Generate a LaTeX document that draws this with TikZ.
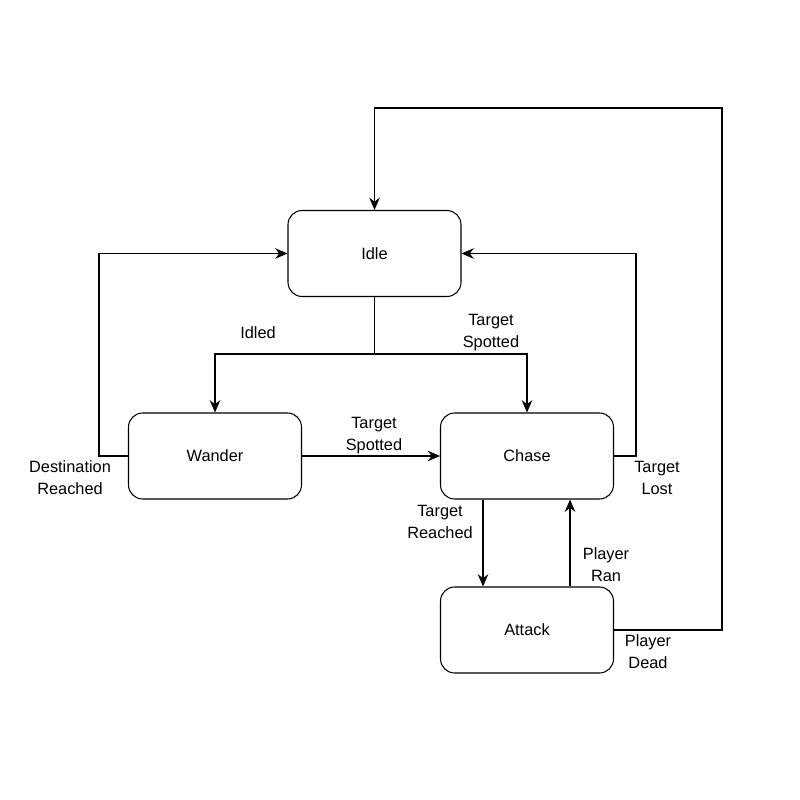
\documentclass[tikz,border=0pt]{standalone}
\usepackage{fontspec}
\setmainfont{Liberation Sans}
\usetikzlibrary{arrows.meta, positioning, calc}

\tikzset{
  state/.style={rectangle, draw, semithick, rounded corners=8pt, minimum width=3.46cm, minimum height=1.72cm},
  lbl/.style={align=center, font=\fontsize{9.3}{12.5}\selectfont},
  flow/.style={-{Stealth[length=7pt,width=6pt]}, semithick}
}

\begin{document}
\begin{tikzpicture}[x=0.02cm, y=-0.02cm, font=\fontsize{9.3}{12.5}\selectfont]
  \useasboundingbox (0,0) rectangle (800,800);

  % States
  \node[state] (idle) at (374.5,253.5) {Idle};
  \node[state] (wander) at (215,456) {Wander};
  \node[state] (chase) at (527,456) {Chase};
  \node[state] (attack) at (527,630) {Attack};

  % Bends
  \coordinate (split) at (374.5,354);
  \coordinate (leftrail) at (99,0);
  \coordinate (rightrail) at (636,0);
  \coordinate (toprail) at (722,108);
  \coordinate (down) at (483,0);
  \coordinate (up) at (570,0);

  % Transitions
  \draw[flow] (idle.south) -- (split) -| (wander.north);
  \draw[flow] (split) -| (chase.north);
  \draw[flow] (wander.east) -- (chase.west);
  \draw[flow] (wander.west) -| (leftrail |- idle.west) -- (idle.west);
  \draw[flow] (chase.east) -| (rightrail |- idle.east) -- (idle.east);
  \draw[flow] (chase.south -| down) -- (attack.north -| down);
  \draw[flow] (attack.north -| up) -- (chase.south -| up);
  \draw[flow] (attack.east) -| (toprail) -| (idle.north);

  % Labels
  \node[lbl] at (258,333) {Idled};
  \node[lbl] at (491,333) {Target\\Spotted};
  \node[lbl] at (374,436) {Target\\Spotted};
  \node[lbl] at (70,478) {Destination\\Reached};
  \node[lbl] at (657,478) {Target\\Lost};
  \node[lbl] at (440,522) {Target\\Reached};
  \node[lbl] at (606,565) {Player\\Ran};
  \node[lbl] at (648,652) {Player\\Dead};
\end{tikzpicture}
\end{document}
